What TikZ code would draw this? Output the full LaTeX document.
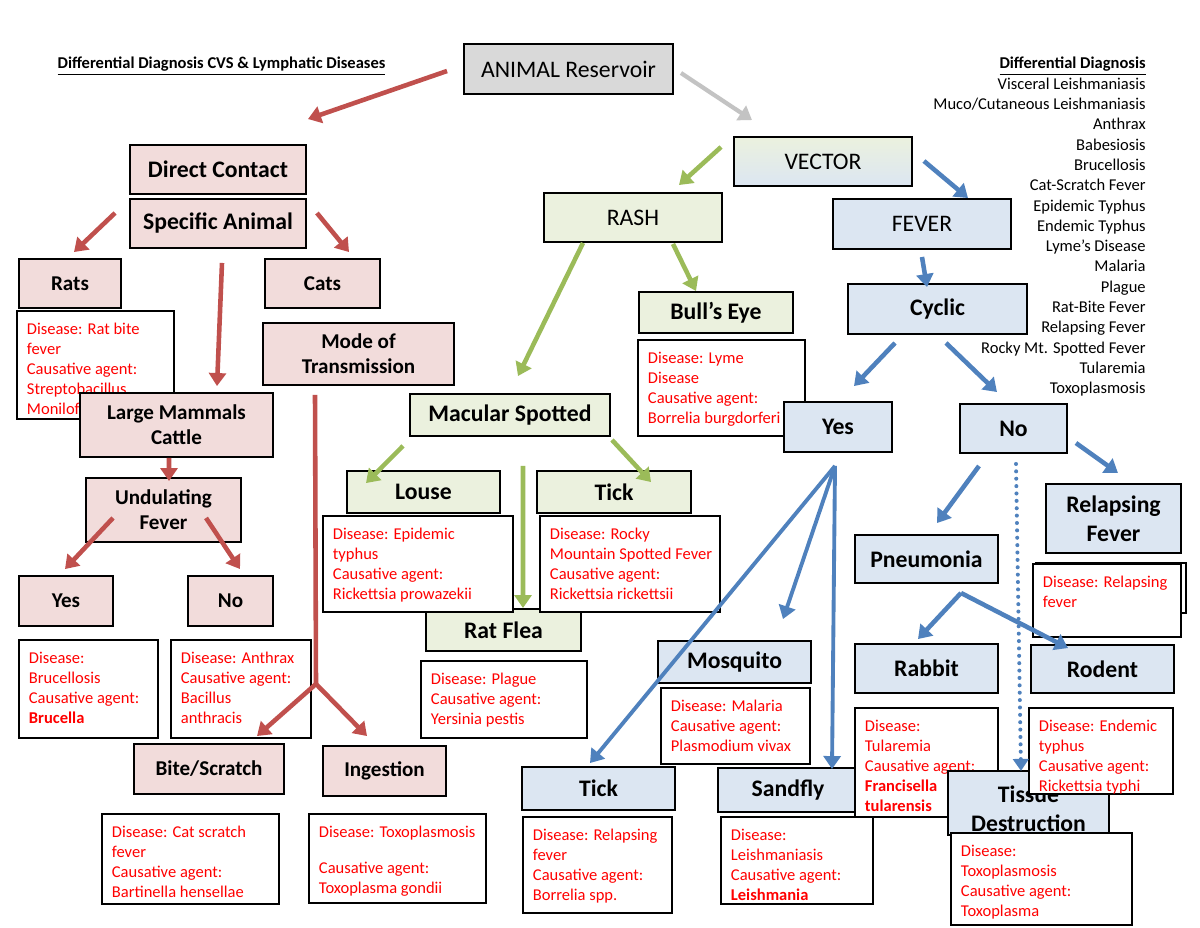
\documentclass[tikz,border=0pt]{standalone}
\usepackage{fontspec}
\setmainfont{Carlito}
\usepackage{tikz}
\usetikzlibrary{
  arrows.meta,
  calc,
  positioning
}
\definecolor{ddPink}{HTML}{F2DCDB}
\definecolor{ddGreen}{HTML}{EBF1DE}
\definecolor{ddBlue}{HTML}{DCE6F2}
\definecolor{ddGray}{HTML}{D9D9D9}
\definecolor{ddRed}{HTML}{C0504D}
\definecolor{ddLeaf}{HTML}{9BBB59}
\definecolor{ddSteel}{HTML}{4F81BD}
\definecolor{ddSilver}{HTML}{C3C3C3}
\definecolor{ddText}{HTML}{FF0000}
\tikzset{
  ddBox/.style={
    draw=black,
    line width=1.1pt,
    align=center,
    inner sep=2pt
  },
  grayBox/.style={ddBox, fill=ddGray, font=\fontsize{13.5}{16}\selectfont},
  pinkBox/.style={ddBox, fill=ddPink, font=\fontsize{12}{14.2}\selectfont\bfseries},
  bigPinkBox/.style={ddBox, fill=ddPink, font=\fontsize{13.5}{16}\selectfont\bfseries},
  greenBox/.style={ddBox, fill=ddGreen, font=\fontsize{13.5}{16.5}\selectfont\bfseries},
  blueBox/.style={ddBox, fill=ddBlue, font=\fontsize{13.5}{16.5}\selectfont\bfseries},
  plainBox/.style={font=\fontsize{13.5}{16}\selectfont},
  vectorBox/.style={ddBox, top color=ddGreen, bottom color=ddBlue, font=\fontsize{13.5}{16}\selectfont},
  disBox/.style={draw=black, line width=1.1pt, fill=white},
  disText/.style={
    anchor=north west,
    align=left,
    inner xsep=6pt,
    inner ysep=7pt,
    text=ddText,
    font=\fontsize{9.4}{11.4}\selectfont
  },
  listText/.style={align=right, inner sep=0pt, font=\fontsize{9.4}{11.55}\selectfont},
  redArrow/.style={-{Triangle[length=2.6mm,width=3.4mm]}, line width=2.6pt, ddRed},
  greenArrow/.style={-{Triangle[length=2.6mm,width=3.4mm]}, line width=2.6pt, ddLeaf},
  blueArrow/.style={-{Triangle[length=2.6mm,width=3.4mm]}, line width=2.6pt, ddSteel},
  grayArrow/.style={-{Triangle[length=2.6mm,width=3.4mm]}, line width=2.4pt, ddSilver},
  dotArrow/.style={
    -{Triangle[length=2.4mm,width=3.1mm]},
    line width=2.3pt,
    ddSteel,
    line cap=round,
    dash pattern=on 0pt off 4.2pt
  }
}

\begin{document}
\begin{tikzpicture}[x=0.02cm,y=-0.02cm]
  \useasboundingbox (0,0) rectangle (1200,927);

  % titles
  \node[font=\fontsize{9.4}{11.4}\selectfont\bfseries] (cvstitle) at (221.5,66)
    {\underline{Differential Diagnosis CVS \& Lymphatic Diseases}};
  \node[listText, anchor=north east] (ddlist) at (1146,57)
    {\textbf{\underline{Differential Diagnosis}}\\
    Visceral Leishmaniasis\\
    Muco/Cutaneous Leishmaniasis\\
    Anthrax\\
    Babesiosis\\
    Brucellosis\\
    Cat-Scratch Fever\\
    Epidemic Typhus\\
    Endemic Typhus\\
    Lyme’s Disease\\
    Malaria\\
    Plague\\
    Rat-Bite Fever\\
    Relapsing Fever\\
    Rocky Mt. Spotted Fever\\
    Tularemia\\
    Toxoplasmosis};

  \node[grayBox, minimum width=4.18cm, minimum height=1cm] (animal) at (568.5,69) {ANIMAL Reservoir};

  % direct contact branch
  \node[bigPinkBox, minimum width=3.52cm, minimum height=0.98cm] (direct) at (218,169.5) {Direct Contact};
  \node[bigPinkBox, minimum width=3.52cm, minimum height=0.98cm] (specific) at (218,223.5) {Specific Animal};
  \node[pinkBox, minimum width=2.04cm, minimum height=0.98cm] (rats) at (70,283.5) {Rats};
  \node[pinkBox, minimum width=2.30cm, minimum height=0.98cm] (cats) at (322.5,283.5) {Cats};
  \node[disBox, minimum width=3.14cm, minimum height=2.16cm] (ratsdis) at (95.5,365) {};
  \node[disText] (ratstxt) at (ratsdis.north west)
    {Disease: Rat bite\\fever\\Causative agent:\\Streptobacillus\\Moniloformis};
  \node[pinkBox, minimum width=3.82cm, minimum height=1.24cm] (mode) at (358.5,354) {Mode of\\Transmission};
  \node[pinkBox, minimum width=3.86cm, minimum height=1.28cm] (large) at (176.5,425) {Large Mammals\\Cattle};
  \node[pinkBox, minimum width=3.10cm, minimum height=1.28cm] (undul) at (163.5,510) {Undulating\\Fever};
  \node[pinkBox, minimum width=1.88cm, minimum height=1cm] (yesL) at (66,601) {Yes};
  \node[pinkBox, minimum width=1.70cm, minimum height=1cm] (noL) at (230.5,601) {No};
  \node[disBox, minimum width=2.78cm, minimum height=1.96cm] (brucdis) at (88.5,689) {};
  \node[disText] (bructxt) at (brucdis.north west)
    {Disease:\\Brucellosis\\Causative agent:\\\textbf{Brucella}};
  \node[disBox, minimum width=2.80cm, minimum height=1.96cm] (anthdis) at (241,689) {};
  \node[disText] (anthtxt) at (anthdis.north west)
    {Disease: Anthrax\\Causative agent:\\Bacillus\\anthracis};
  \node[pinkBox, minimum width=3.0cm, minimum height=1cm] (bite) at (209,769) {Bite/Scratch};
  \node[pinkBox, minimum width=2.46cm, minimum height=1cm] (ingest) at (384.5,771) {Ingestion};
  \node[disBox, minimum width=3.54cm, minimum height=1.80cm] (catdis) at (190.5,859) {};
  \node[disText] (cattxt) at (catdis.north west)
    {Disease: Cat scratch\\fever\\Causative agent:\\Bartinella hensellae};
  \node[disBox, minimum width=3.54cm, minimum height=1.78cm] (toxodis) at (397.5,858.5) {};
  \node[disText] (toxotxt) at (toxodis.north west)
    {Disease: Toxoplasmosis\\[9pt]Causative agent:\\Toxoplasma gondii};

  % vector, rash branch
  \node[vectorBox, minimum width=3.56cm, minimum height=0.98cm] (vector) at (823,161.5) {VECTOR};
  \node[ddBox, fill=ddGreen, plainBox, minimum width=3.56cm, minimum height=0.98cm] (rash) at (633,217.5) {RASH};
  \node[greenBox, minimum width=3.08cm, minimum height=0.82cm] (bulls) at (716,312.5) {Bull’s Eye};
  \node[disBox, minimum width=3.34cm, minimum height=1.92cm] (lymedis) at (721.5,388) {};
  \node[disText] (lymetxt) at (lymedis.north west)
    {Disease: Lyme\\Disease\\Causative agent:\\Borrelia burgdorferi};
  \node[greenBox, minimum width=4.0cm, minimum height=0.84cm] (macular) at (510,415) {Macular Spotted};
  \node[greenBox, minimum width=3.06cm, minimum height=0.84cm] (louse) at (423.5,492) {Louse};
  \node[greenBox, minimum width=3.08cm, minimum height=0.84cm] (tickG) at (614,492) {Tick};
  \node[greenBox, minimum width=3.10cm, minimum height=0.84cm] (ratflea) at (503.5,630) {Rat Flea};
  \node[disBox, minimum width=3.80cm, minimum height=1.92cm] (lousedis) at (418,564) {};
  \node[disText] (lousetxt) at (lousedis.north west)
    {Disease: Epidemic\\typhus\\Causative agent:\\Rickettsia prowazekii};
  \node[disBox, minimum width=3.60cm, minimum height=1.92cm] (tickdis) at (630,564) {};
  \node[disText] (ticktxt) at (tickdis.north west)
    {Disease: Rocky\\Mountain Spotted Fever\\Causative agent:\\Rickettsia rickettsii};
  \node[disBox, minimum width=3.32cm, minimum height=1.54cm] (plaguedis) at (504,699.5) {};
  \node[disText] (plaguetxt) at (plaguedis.north west)
    {Disease: Plague\\Causative agent:\\Yersinia pestis};

  % fever branch
  \node[ddBox, fill=ddBlue, plainBox, minimum width=3.56cm, minimum height=1cm] (fever) at (922,224) {FEVER};
  \node[blueBox, minimum width=3.58cm, minimum height=1cm] (cyclic) at (937.5,309) {Cyclic};
  \node[blueBox, minimum width=2.16cm, minimum height=1cm] (yesB) at (838,427) {Yes};
  \node[blueBox, minimum width=2.14cm, minimum height=0.98cm] (noB) at (1013.5,428.5) {No};
  \node[blueBox, minimum width=3.06cm, minimum height=0.84cm] (mosq) at (734.5,662) {Mosquito};
  \node[disBox, minimum width=2.98cm, minimum height=1.52cm] (malariadis) at (735.5,726) {};
  \node[disText] (malariatxt) at (malariadis.north west)
    {Disease: Malaria\\Causative agent:\\Plasmodium vivax};
  \node[blueBox, minimum width=3.06cm, minimum height=0.86cm] (tickB) at (598.5,788.5) {Tick};
  \node[disBox, minimum width=2.98cm, minimum height=1.92cm] (relapsdis) at (597.5,865) {};
  \node[disText] (relapstxt) at (relapsdis.north west)
    {Disease: Relapsing\\fever\\Causative agent:\\Borrelia spp.};
  \node[blueBox, minimum width=2.80cm, minimum height=0.88cm] (sandfly) at (788,790) {Sandfly};
  \node[disBox, minimum width=3.04cm, minimum height=1.74cm] (leishdis) at (797,860.5) {};
  \begin{scope}
    \clip ([shift={(1pt,-1pt)}]leishdis.north west) rectangle ([shift={(-1pt,1pt)}]leishdis.south east);
    \node[disText] (leishtxt) at (leishdis.north west)
      {Disease:\\Leishmaniasis\\Causative agent:\\\textbf{Leishmania}};
  \end{scope}
  \node[blueBox, minimum width=2.70cm, minimum height=1.38cm] (relapsF) at (1113.5,518.5) {Relapsing\\Fever};
  \node[disBox, minimum width=3.0cm, minimum height=1.0cm] (relapsback) at (1111,588) {};
  \node[disBox, minimum width=2.96cm, minimum height=1.46cm] (relapsdis2) at (1107,600.5) {};
  \node[disText] (relaps2txt) at (relapsdis2.north west) {Disease: Relapsing\\fever};
  \node[blueBox, minimum width=2.86cm, minimum height=0.96cm] (pneu) at (926.5,559) {Pneumonia};
  \node[blueBox, minimum width=2.86cm, minimum height=0.98cm] (rabbit) at (926.5,668.5) {Rabbit};
  \node[blueBox, minimum width=2.86cm, minimum height=0.96cm] (rodent) at (1102.5,669) {Rodent};
  \node[disBox, minimum width=2.86cm, minimum height=2.18cm] (tuladis) at (926.5,762.5) {};
  \node[disText] (tulatxt) at (tuladis.north west)
    {Disease:\\Tularemia\\Causative agent:\\\textbf{Francisella}\\\textbf{tularensis}};
  \node[blueBox, text height=32.5pt, minimum width=3.22cm, minimum height=1.28cm] (tissue) at (1028.5,803) {Tissue\\Destruction};
  \node[disBox, minimum width=2.88cm, minimum height=1.72cm] (endemdis) at (1101,751) {};
  \begin{scope}
    \clip ([shift={(1pt,-1pt)}]endemdis.north west) rectangle ([shift={(-1pt,1pt)}]endemdis.south east);
    \node[disText] (endemtxt) at (endemdis.north west)
      {Disease: Endemic\\typhus\\Causative agent:\\Rickettsia typhi};
  \end{scope}
  \node[disBox, minimum width=3.62cm, minimum height=1.84cm] (toxodis2) at (1041.5,879) {};
  \node[disText] (toxo2txt) at (toxodis2.north west)
    {Disease:\\Toxoplasmosis\\Causative agent:\\Toxoplasma};

  % connectors
  \coordinate (modesplit) at ([shift={(-42.5,298)}]mode.south);
  \coordinate (yeshub) at ([shift={(-3,13)}]yesB.south);
  \coordinate (pneusplit) at ([shift={(34.5,9)}]pneu.south);

  \draw[redArrow] ([shift={(-16,2)}]animal.west) -- ([shift={(90,-25)}]direct.north);
  \draw[redArrow] ([shift={(-14,-10.5)}]specific.west) -- ([shift={(4,-6)}]rats.north);
  \draw[redArrow] ([shift={(10,-10.5)}]specific.east) -- ([shift={(26.5,-6)}]cats.north);
  \draw[redArrow] ([shift={(4,14)}]specific.south) -- ([shift={(40.5,-6)}]large.north);
  \draw[redArrow] ([shift={(-7.5,0)}]large.south) -- ([shift={(5.5,4)}]undul.north);
  \draw[redArrow] ([shift={(-50.5,-25)}]undul.south) -- ([shift={(-1,-6)}]yesL.north);
  \draw[redArrow] ([shift={(42.5,-25)}]undul.south) -- ([shift={(9.5,-6)}]noL.north);
  \draw[ddRed, line width=2.6pt] ([shift={(-43.5,9)}]mode.south) -- (modesplit);
  \draw[redArrow] (modesplit) -- ([shift={(48,-7)}]bite.north);
  \draw[redArrow] (modesplit) -- ([shift={(-17.5,-9)}]ingest.north);

  \draw[grayArrow] ([shift={(7,4)}]animal.east) -- ([shift={(-71,-16)}]vector.north);

  \draw[greenArrow] ([shift={(-12,-14.5)}]vector.west) -- ([shift={(46,-7)}]rash.north);
  \draw[greenArrow] ([shift={(-50,0)}]rash.south) -- ([shift={(8,-17)}]macular.north);
  \draw[greenArrow] ([shift={(40,1)}]rash.south) -- ([shift={(-20,0)}]bulls.north);
  \draw[greenArrow] ([shift={(-107,9)}]macular.south) -- ([shift={(-57.5,13)}]louse.north);
  \draw[greenArrow] ([shift={(102,3)}]macular.south) -- ([shift={(37,12)}]tickG.north);
  \draw[greenArrow] ([shift={(13,29)}]macular.south) -- ([shift={(19.5,0)}]ratflea.north);

  \draw[blueArrow] ([shift={(11,-0.5)}]vector.east) -- ([shift={(46,0)}]fever.north);
  \draw[blueArrow] ([shift={(0,7)}]fever.south) -- ([shift={(-10.5,4)}]cyclic.north);
  \draw[blueArrow] ([shift={(-42.5,8)}]cyclic.south) -- ([shift={(16,-15)}]yesB.north);
  \draw[blueArrow] ([shift={(8.5,8)}]cyclic.south) -- ([shift={(-16.5,-11)}]noB.north);
  \draw[blueArrow, line width=2.2pt] (yeshub) -- ([shift={(-8.5,-3)}]tickB.north);
  \draw[blueArrow, line width=2.2pt] (yeshub) -- ([shift={(48.5,-21)}]mosq.north);
  \draw[blueArrow, line width=2.2pt] (yeshub) -- ([shift={(44,2)}]sandfly.north);
  \draw[blueArrow] ([shift={(-34.5,12)}]noB.south) -- ([shift={(10.5,-11)}]pneu.north);
  \draw[blueArrow] ([shift={(8,14.5)}]noB.east) -- ([shift={(4.5,-10)}]relapsF.north);
  \draw[dotArrow] ([shift={(2.5,10)}]noB.south) -- ([shift={(-7.5,1)}]tissue.north);
  \draw[blueArrow] (pneusplit) -- ([shift={(-8.5,-4)}]rabbit.north);
  \draw[blueArrow] (pneusplit) -- ([shift={(-34.5,4)}]rodent.north);
\end{tikzpicture}
\end{document}
